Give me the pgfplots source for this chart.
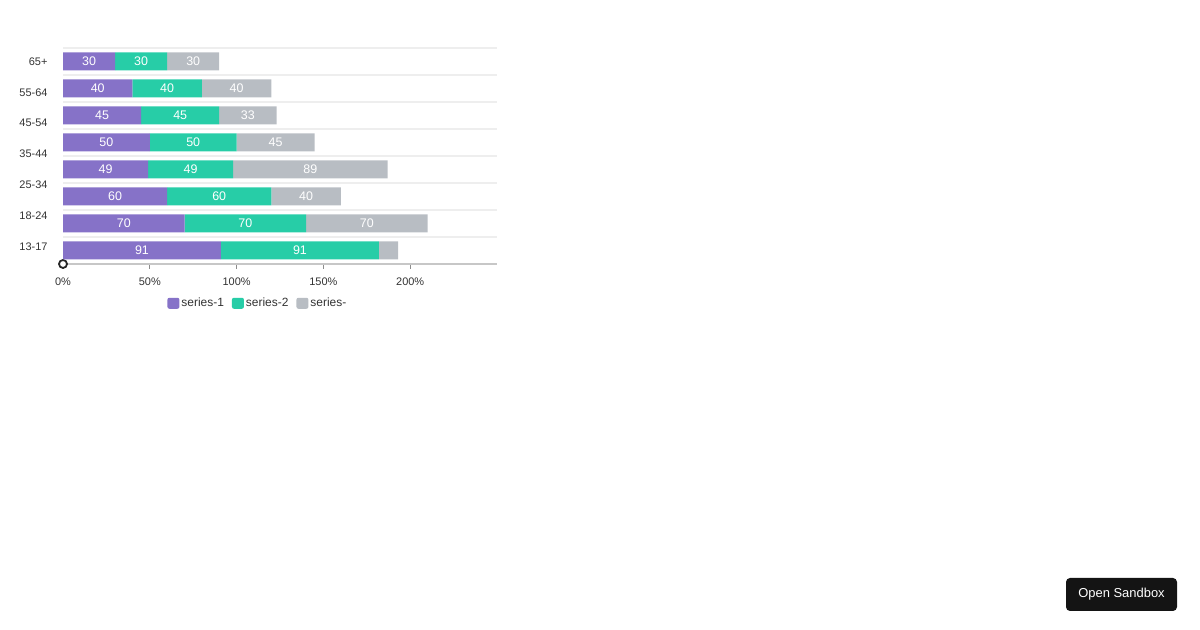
\documentclass[border=0pt]{standalone}
\usepackage{fontspec}
\setmainfont{Liberation Sans}
\usepackage{pgfplots}
\pgfplotsset{compat=1.18}
\definecolor{sone}{HTML}{8672C8}
\definecolor{stwo}{HTML}{27CDA7}
\definecolor{sthree}{HTML}{B8BDC3}
\definecolor{gridc}{HTML}{EEEEEE}
\definecolor{labc}{HTML}{333333}
\begin{document}
\begin{tikzpicture}[x=1bp,y=1bp]
\path[use as bounding box] (0,0) rectangle (1200,630);
\begin{axis}[
  at={(63bp,366bp)}, anchor=south west,
  scale only axis, width=434bp, height=216bp, clip=false,
  xbar stacked, bar width=18bp,
  xmin=0, xmax=250, ymin=-0.5, ymax=7.5,
  axis x line*=bottom, axis y line*=left,
  y axis line style={draw=none},
  x axis line style={draw=black!22, line width=2bp},
  xtick={0,50,100,150,200},
  xticklabels={0\%,50\%,100\%,150\%,200\%},
  ytick={0.143,1.286,2.429,3.571,4.714,5.857,7},
  yticklabels={13-17,18-24,25-34,35-44,45-54,55-64,65+},
  extra y ticks={0.5,1.5,2.5,3.5,4.5,5.5,6.5,7.5},
  extra y tick labels={},
  extra y tick style={ymajorgrids=true},
  major grid style={draw=gridc, line width=2bp},
  ytick style={draw=none},
  xtick style={draw=black!45, line width=1bp},
  tick align=outside, major tick length=5bp,
  tick label style={font=\fontsize{11}{13}\selectfont, text=labc},
  yticklabel style={xshift=-7bp},
  xticklabel style={yshift=-5bp},
  visualization depends on={rawx \as \rawx},
  nodes near coords={\ifdim\rawx pt<15pt\else\pgfmathprintnumber[assume math mode=true, fixed, precision=0]{\rawx}\fi},
  every node near coord/.append style={anchor=center,
    text=white, font=\fontsize{12.5}{14}\selectfont},
  legend style={at={(0.449,0)}, anchor=north, yshift=-30bp, draw=none,
    legend columns=3, font=\fontsize{12}{14}\selectfont, text=labc,
    /tikz/every even column/.append style={column sep=6bp}},
  legend image code/.code={\path[#1, draw=none, rounded corners=2bp] (0bp,-5.5bp) rectangle (12bp,5.5bp);},
]
\addplot[fill=sone, draw=none] coordinates {(91,0) (70,1) (60,2) (49,3) (50,4) (45,5) (40,6) (30,7)};
\addplot[fill=stwo, draw=none] coordinates {(91,0) (70,1) (60,2) (49,3) (50,4) (45,5) (40,6) (30,7)};
\addplot[fill=sthree, draw=none] coordinates {(11,0) (70,1) (40,2) (89,3) (45,4) (33,5) (40,6) (30,7)};
\legend{series-1,series-2,series-}
\draw[black!85, line width=1.8bp, fill=white] (rel axis cs:0,0) circle[radius=4bp];
\end{axis}
\node[fill=black!92, rounded corners=4bp, text=white, font=\fontsize{13}{15}\selectfont,
  minimum width=111bp, minimum height=33bp, inner sep=0pt] at (1121.5,35.5) {Open Sandbox};
\end{tikzpicture}
\end{document}
